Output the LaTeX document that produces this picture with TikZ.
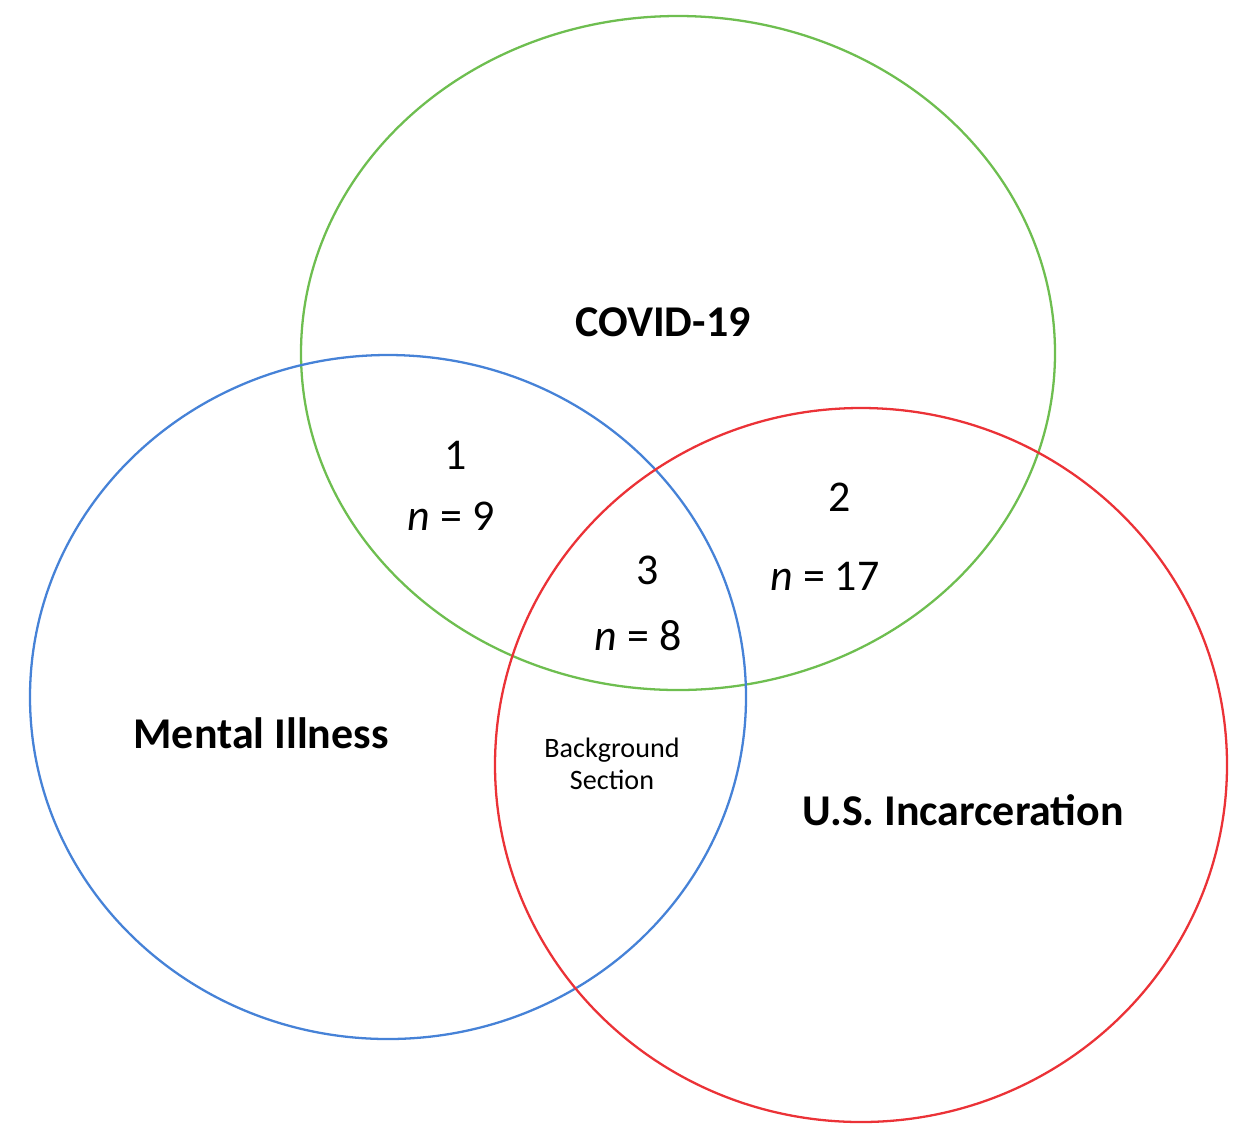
\documentclass[tikz,border=0pt]{standalone}
\usepackage{fontspec}
\setmainfont{Carlito}
\definecolor{cg}{RGB}{110,190,80}
\definecolor{cb}{RGB}{70,130,215}
\definecolor{cr}{RGB}{235,50,55}
\begin{document}
\begin{tikzpicture}[x=0.02cm,y=-0.02cm,
  ring/.style={line width=1.3pt},
  big/.style={font=\fontsize{25}{28}\selectfont\bfseries},
  num/.style={font=\fontsize{25}{28}\selectfont},
  small/.style={font=\fontsize{16}{20}\selectfont, align=center}]
\useasboundingbox (0,0) rectangle (1250,1144);
\draw[ring,cg] (678,353) ellipse [x radius=377, y radius=337];
\draw[ring,cb] (388,697) ellipse [x radius=358, y radius=342];
\draw[ring,cr] (861,765) ellipse [x radius=366, y radius=357];
\node[big] (covid) at (663,322) {COVID-19};
\node[big] (mental) at (261,733) {Mental Illness};
\node[big] (us) at (963,810) {U.S. Incarceration};
\node[num] (o1) at (456,455) {1};
\node[num] (n1) at (451,516) {\textit{n} = 9};
\node[num] (o2) at (840,497) {2};
\node[num] (n2) at (825,576) {\textit{n} = 17};
\node[num] (o3) at (648,570) {3};
\node[num] (n3) at (638,636) {\textit{n} = 8};
\node[small] (bg) at (612,764) {Background\\[-2pt]Section};
\end{tikzpicture}
\end{document}
